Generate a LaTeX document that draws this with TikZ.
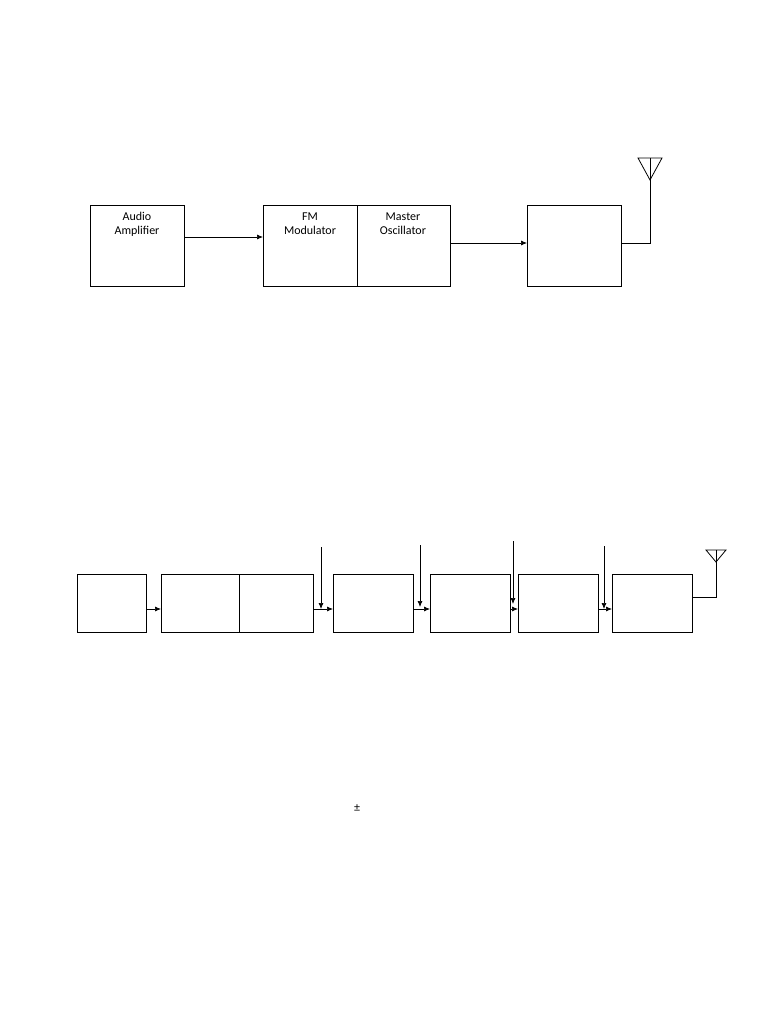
\documentclass[tikz,border=0pt]{standalone}
\usepackage{fontspec}
\setmainfont{Carlito}
\usetikzlibrary{arrows.meta}
\begin{document}
\begin{tikzpicture}[x=1pt,y=-1pt,
  blk/.style={draw,line width=0.8pt},
  con/.style={line width=0.7pt,-{Latex[length=6pt,width=5pt]}},
  lbl/.style={font=\fontsize{12}{14}\selectfont,align=center,anchor=north}]
\useasboundingbox (0,0) rectangle (768,1024);
% top row
\draw[blk] (90,205) rectangle (184,286);
\draw[blk] (263,205) rectangle (357,286);
\draw[blk] (357,205) rectangle (450,286);
\draw[blk] (527,205) rectangle (621,286);
\node[lbl] (aa) at (137,209) {Audio\\Amplifier};
\node[lbl] (fm) at (310,209) {FM\\Modulator};
\node[lbl] (mo) at (403,209) {Master\\Oscillator};
\coordinate (a1) at (184,237); \coordinate (b1) at (263,237);
\coordinate (a2) at (450,243); \coordinate (b2) at (527,243);
\draw[con] (a1) -- (b1);
\draw[con] (a2) -- (b2);
\draw[line width=0.8pt] (621,243) -- (650,243) -- (650,158);
\draw[line width=0.8pt] (638,158) -- (662,158) -- (650,180) -- cycle;
% bottom row
\draw[blk] (77,574) rectangle (146,632);
\draw[blk] (161,574) rectangle (239,632);
\draw[blk] (239,574) rectangle (313,632);
\draw[blk] (333,574) rectangle (413,632);
\draw[blk] (430,574) rectangle (510,632);
\draw[blk] (518,574) rectangle (598,632);
\draw[blk] (612,574) rectangle (692,632);
\foreach \s/\e in {146/161,313/333,413/430,510/518,598/612}
  \draw[con] (\s,609) -- (\e,609);
\foreach \x/\t/\b in {321/547/609,420/545/607,513/541/604,604/546/609}
  \draw[con] (\x,\t) -- (\x,\b);
\draw[line width=0.8pt] (692,597) -- (716,597) -- (716,550);
\draw[line width=0.8pt] (706,550) -- (726,550) -- (716,562) -- cycle;
\node (pm) at (357,808) {\fontsize{12}{14}\selectfont ±};
\end{tikzpicture}
\end{document}
